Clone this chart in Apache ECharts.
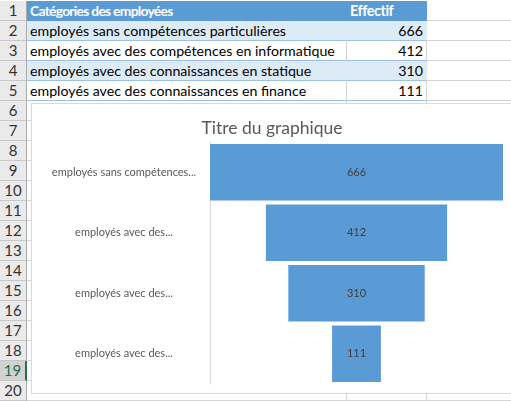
<!DOCTYPE html>
<html>
<head>
<meta charset="utf-8">
<script src="https://cdn.jsdelivr.net/npm/echarts@6/dist/echarts.min.js"></script>
<style>
  html, body { margin: 0; padding: 0; width: 511px; height: 401px; overflow: hidden; background: #fff; }
  body { position: relative; font-family: Lato, 'Open Sans', sans-serif; }
  .cell { position: absolute; box-sizing: border-box; height: 20px; line-height: 19px; font-size: 14.2px; color: #000;
    border-right: 1px solid #D4D4D4; border-bottom: 1px solid #D4D4D4; white-space: nowrap; overflow: hidden; }
  .rowhead { background: #EAEAEA; color: #333; text-align: center; font-size: 15px; border-right: 1px solid #ABABAB; border-bottom: 1px solid #C8C8C8; }
  .rowhead.sel { background: #D2D2D2; color: #217346; border-right: 2px solid #217346; }
  .head { background: #5B9BD5; color: #fff; font-weight: bold; letter-spacing: -0.5px; font-size: 14.5px; border-color: #5B9BD5; }
  .head.first { font-size: 13.8px; letter-spacing: -0.7px; }
  .band { background: #DDEBF7; border-bottom-color: #9BC2E6; border-right-color: #DDEBF7; }
  .plain { border-bottom-color: #9BC2E6; }
  #chart { position: absolute; left: 31px; top: 103px; width: 480px; height: 289px;
    border: 1px solid #D9D9D9; border-right: none; background: #fff; }
</style>
</head>
<body>
<div id="sheet"></div>
<div id="chart"></div>
<script>
;(function () {
  const headers = ['Catégories des employées', 'Effectif']
  const categories = [
    'employés sans compétences particulières',
    'employés avec des compétences en informatique',
    'employés avec des connaissances en statique',
    'employés avec des connaissances en finance',
  ]
  const values = [666, 412, 310, 111]
  const chartTitle = 'Titre du graphique'

  // spreadsheet grid
  const sheet = document.getElementById('sheet')
  const cols = [[27, 347], [347, 427], [427, 520]]

  function addCell(x, y, w, cls, text, style) {
    const d = document.createElement('div')
    d.className = 'cell ' + cls
    d.style.left = x + 'px'
    d.style.top = y + 'px'
    d.style.width = w + 'px'
    if (style) Object.assign(d.style, style)
    d.textContent = text || ''
    sheet.appendChild(d)
  }

  for (let r = 1; r <= 20; r++) {
    const y = (r - 1) * 20 + 1
    addCell(0, y, 27, 'rowhead' + (r === 19 ? ' sel' : ''), String(r))
    for (let c = 0; c < cols.length; c++) {
      const [x0, x1] = cols[c]
      let cls = ''
      let text = ''
      const style = { paddingLeft: '3px', paddingRight: '3px' }
      if (r === 1 && c < 2) {
        cls = c === 0 ? 'head first' : 'head'
        text = headers[c]
      } else if (r >= 2 && r <= 5 && c < 2) {
        cls = r % 2 === 0 ? 'band' : 'plain'
        if (c === 0) text = categories[r - 2]
        else {
          text = String(values[r - 2])
          style.textAlign = 'right'
        }
      }
      addCell(x0, y, x1 - x0, cls, text, style)
    }
  }

  // word-based truncation like the Excel axis labels
  function shortLabel(name) {
    const words = name.split(' ')
    let out = ''
    for (const w of words) {
      const next = out ? out + ' ' + w : w
      if (next.length > 26) return out + '...'
      out = next
    }
    return out
  }

  const maxValue = Math.max(...values)
  const chart = echarts.init(document.getElementById('chart'))
  chart.setOption({
    animation: false,
    textStyle: { fontFamily: 'Lato' },
    title: {
      text: chartTitle,
      left: 'center',
      top: 10,
      textStyle: { fontSize: 17.5, fontWeight: 'normal', color: '#595959', fontFamily: 'Lato' },
    },
    grid: { left: 178, right: 9, top: 38, bottom: 9 },
    xAxis: { type: 'value', min: 0, max: maxValue, show: false },
    yAxis: {
      type: 'category',
      inverse: true,
      data: categories,
      axisLine: { lineStyle: { color: '#D9D9D9' } },
      axisTick: { show: false },
      axisLabel: { formatter: shortLabel, align: 'center', margin: 86, color: '#595959', fontSize: 11 },
    },
    series: [
      {
        type: 'bar',
        stack: 'funnel',
        silent: true,
        itemStyle: { color: 'transparent' },
        data: values.map((v) => (maxValue - v) / 2),
        barCategoryGap: '7%',
      },
      {
        type: 'bar',
        stack: 'funnel',
        itemStyle: { color: '#5B9BD5' },
        label: { show: true, position: 'inside', color: '#404040', fontSize: 11 },
        data: values,
        barCategoryGap: '7%',
      },
    ],
  })
})()
</script>
</body>
</html>
